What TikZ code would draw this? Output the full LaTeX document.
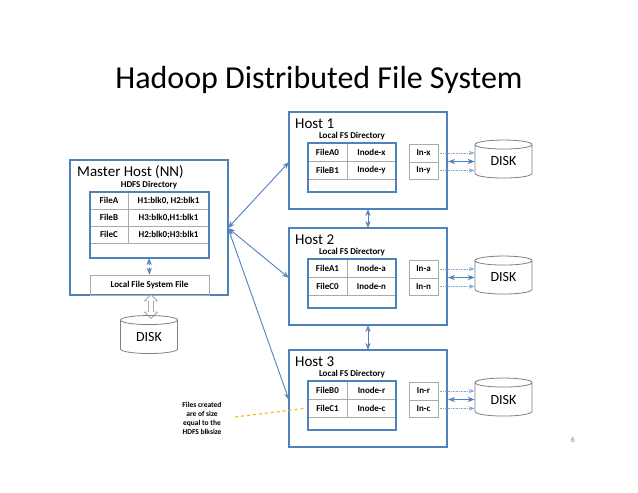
\documentclass[tikz,border=0pt]{standalone}
\usepackage{fontspec}
\setmainfont{Carlito}
\usetikzlibrary{shapes.geometric,shapes.arrows,arrows.meta}
\definecolor{hblue}{RGB}{79,129,189}
\definecolor{hgray}{RGB}{170,170,170}
\definecolor{hyell}{RGB}{240,190,30}
\tikzset{
  host/.style={draw=hblue, line width=1.2pt},
  cell/.style={draw=hgray, line width=0.5pt, font=\bfseries\fontsize{9}{10}\selectfont, inner sep=0pt},
  tab/.style={draw=hblue, line width=1.2pt},
  disk/.style={cylinder, shape border rotate=90, aspect=0.35, draw=gray, line width=0.8pt,
    minimum width=57pt, minimum height=38pt, font=\fontsize{14}{16}\selectfont, inner sep=0pt},
  link/.style={hblue, line width=0.9pt, {Stealth[open]}-{Stealth[open]}},
  thin/.style={hblue!70, densely dotted, line width=0.6pt, -{Stealth[open]}},
  title/.style={anchor=west, font=\fontsize{15}{17}\selectfont, inner sep=0pt},
  sub/.style={font=\bfseries\fontsize{9}{10}\selectfont, inner sep=0pt}
}
\begin{document}
\begin{tikzpicture}[x=1pt, y=-1pt]
\useasboundingbox (0,0) rectangle (638,493);
\node (head) at (319,80) {\fontsize{32}{36}\selectfont Hadoop Distributed File System};
% master host
\draw[host] (70,160) rectangle (228,295);
\coordinate (mR) at (228,228);
\node[title] (mtitle) at (77,172) {Master Host (NN)};
\node[sub] (hdfsdir) at (149,185) {HDFS Directory};
\foreach \n/\a/\b [count=\i] in {FileA/{H1:blk0, H2:blk1},FileB/{H3:blk0,H1:blk1},FileC/{H2:blk0;H3:blk1}} {
  \node[cell, minimum width=38pt, minimum height=17pt] (mf\i) at (109,{192+17*\i-8.5}) {\n};
  \node[cell, minimum width=81pt, minimum height=17pt] (mb\i) at (168.5,{192+17*\i-8.5}) {\a};
}
\draw[tab] (90,192) rectangle (209,258);
\coordinate (mtab) at (149,258);
\node[cell, minimum width=119pt, minimum height=20pt] (lfs) at (149.5,285) {Local File System File};
\draw[link, densely dashed] (mtab) -- (lfs.north);
\node[double arrow, draw=gray, fill=white, rotate=90, minimum height=24pt, minimum width=13pt,
  double arrow head extend=2pt, inner sep=1pt] (big) at (151,306.5) {};
\node[disk] (mdisk) at (149,337) {DISK};
% hosts
\foreach \h/\y/\fa/\ia/\fb/\ib/\na/\nb in {1/112/FileA0/Inode-x/FileB1/Inode-y/In-x/In-y,
    2/228/FileA1/Inode-a/FileC0/Inode-n/In-a/In-n,
    3/350/FileB0/Inode-r/FileC1/Inode-c/In-r/In-c} {
  \draw[host] (289,\y) rectangle (447,\y+97);
  \coordinate (h\h top) at (368,\y);
  \coordinate (h\h bot) at (368,\y+97);
  \coordinate (h\h L) at (289,\y+50);
  \node[title] (ht\h) at (295,\y+12) {Host \h};
  \node[sub] (ld\h) at (352,\y+24.5) {Local FS Directory};
  \node[cell, minimum width=39pt, minimum height=18pt] (fa\h) at (327.5,\y+40) {\fa};
  \node[cell, minimum width=49pt, minimum height=18pt] (ia\h) at (371.5,\y+40) {\ia};
  \node[cell, minimum width=39pt, minimum height=18pt] (fb\h) at (327.5,\y+58) {\fb};
  \node[cell, minimum width=49pt, minimum height=18pt] (ib\h) at (371.5,\y+58) {\ib};
  \draw[tab] (308,\y+31) rectangle (396,\y+80);
  \node[cell, minimum width=29pt, minimum height=17.5pt] (na\h) at (423.5,\y+41) {\na};
  \node[cell, minimum width=29pt, minimum height=17.5pt] (nb\h) at (423.5,\y+58.5) {\nb};
  \node[disk] (d\h) at (503.5,\y+49.5) {DISK};
  \draw[thin] (na\h.east) -- (na\h.east -| d\h.west);
  \draw[thin] (nb\h.east) -- (nb\h.east -| d\h.west);
  \draw[link] (448,\y+49.5) -- (d\h.west);
  \draw[link] (mR) -- (h\h L);
}
\draw[link] (h1bot) -- (h2top);
\draw[link] (h2bot) -- (h3top);
% note
\node[align=center, font=\bfseries\fontsize{7.5}{9}\selectfont, inner sep=0pt] (note) at (202,418) {Files created\\are of size\\equal to the\\HDFS blksize};
\draw[hyell, dashed, line width=1.2pt] (235,417) -- (fb3.west);
\node[text=gray, font=\fontsize{8}{9}\selectfont] (page) at (573,440) {6};
\end{tikzpicture}
\end{document}
